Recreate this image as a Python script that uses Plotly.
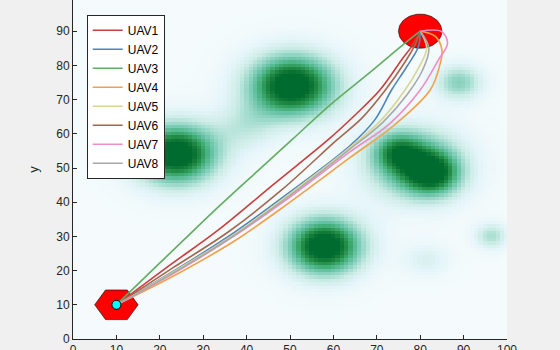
import numpy as np
import plotly.graph_objects as go

# ---------------- data ----------------
grid_x = np.arange(0, 101)
grid_y = np.arange(0, 101)

# threat sources
threat_x = [50.5, 23.8, 58.0, 79.0, 74.6, 83.2, 89.0, 96.5, 81.5, 40.0]
threat_y = [74.0, 54.0, 27.0, 51.0, 55.0, 48.0, 75.0, 30.0, 23.0, 62.0]
threat_sx = [7.5, 7.0, 6.5, 8.0, 4.0, 4.5, 4.0, 2.8, 4.0, 5.0]
threat_sy = [6.8, 6.5, 6.2, 7.5, 4.0, 4.5, 3.8, 2.8, 3.5, 5.0]
threat_peak = [1.15, 1.15, 1.15, 0.75, 0.45, 0.6, 0.5, 0.4, 0.22, 0.25]

start_xy = (10, 10)
goal_xy = (80, 90)
start_radius = 5
goal_radius = 5

uav_names = ["UAV1", "UAV2", "UAV3", "UAV4", "UAV5", "UAV6", "UAV7", "UAV8"]
uav_colors = ["#cc3d3d", "#4f86b8", "#62ad62", "#f2a04a", "#d9d595",
              "#a4674e", "#f08cc6", "#a8a8a8"]

uav1_x = [10, 22, 33.5, 46, 59, 65, 70.7, 75.7, 78, 80]
uav1_y = [10, 21.3, 31.9, 45, 58.5, 65.5, 72.8, 81.6, 85.5, 90]
uav2_x = [10, 24, 37, 50, 63.8, 69.5, 73.4, 76.9, 79.6, 80]
uav2_y = [10, 20.5, 31, 43, 56.5, 64, 72.8, 79.6, 85.5, 90]
uav3_x = [10, 19, 28, 34, 42, 50.4, 59.2, 68, 76.5, 80]
uav3_y = [10, 21, 32, 39.2, 48.5, 58.2, 68.4, 77.5, 86.5, 90]
uav4_x = [10, 24, 37, 50, 63.8, 74, 82.3, 84.5, 85, 83.5, 80]
uav4_y = [10, 19, 28.5, 40, 53, 62.5, 72.8, 80, 84.5, 88.5, 90]
uav5_x = [10, 24, 37, 50, 63.8, 71, 76.5, 79.5, 81.5, 80]
uav5_y = [10, 20.3, 30.5, 42.5, 56, 64, 72.8, 79, 85, 90]
uav6_x = [10, 23, 36, 48, 60.8, 66.5, 71.8, 76.5, 78.8, 80]
uav6_y = [10, 20.8, 31.5, 43.5, 58.2, 64.5, 72.5, 81, 86, 90]
uav7_x = [10, 24, 37, 50, 63.8, 73, 80, 84.2, 86.3, 84.9, 80]
uav7_y = [10, 19.8, 30, 41.5, 54.7, 63, 72.8, 81.6, 86.5, 89.9, 90]
uav8_x = [10, 24, 37, 50, 63.8, 71.5, 77, 80.5, 82, 80]
uav8_y = [10, 20, 30.2, 42, 55.5, 63.5, 71.5, 78.5, 85, 90]

uav_x = [uav1_x, uav2_x, uav3_x, uav4_x, uav5_x, uav6_x, uav7_x, uav8_x]
uav_y = [uav1_y, uav2_y, uav3_y, uav4_y, uav5_y, uav6_y, uav7_y, uav8_y]

x_ticks = list(range(0, 101, 10))
y_ticks = list(range(0, 91, 10))

# ---------------- build ----------------
GX, GY = np.meshgrid(grid_x, grid_y)
field = np.zeros_like(GX, dtype=float)
for cx, cy, sx, sy, pk in zip(threat_x, threat_y, threat_sx, threat_sy, threat_peak):
    field += pk * np.exp(-((GX - cx) ** 2 / (2 * sx ** 2) + (GY - cy) ** 2 / (2 * sy ** 2)))

colorscale = [[0.0, "#f5fbfc"], [0.15, "#e5f5f9"], [0.3, "#ccece6"], [0.45, "#99d8c9"],
              [0.6, "#66c2a4"], [0.72, "#41ae76"], [0.85, "#238b45"], [1.0, "#006b2e"]]

fig = go.Figure()
fig.add_trace(go.Heatmap(x=grid_x, y=grid_y, z=field, colorscale=colorscale,
                         zmin=0, zmax=1, showscale=False, hoverinfo="skip"))

# start hexagon
ang = np.deg2rad(np.arange(0, 361, 60))
fig.add_trace(go.Scatter(x=start_xy[0] + start_radius * np.cos(ang),
                         y=start_xy[1] + start_radius * np.sin(ang),
                         mode="lines", fill="toself", fillcolor="#ff0000",
                         line=dict(color="#000000", width=0.6),
                         showlegend=False, hoverinfo="skip"))
# goal circle
t = np.linspace(0, 2 * np.pi, 90)
fig.add_trace(go.Scatter(x=goal_xy[0] + goal_radius * np.cos(t),
                         y=goal_xy[1] + goal_radius * np.sin(t),
                         mode="lines", fill="toself", fillcolor="#ff0000",
                         line=dict(color="#000000", width=0.6),
                         showlegend=False, hoverinfo="skip"))

for name, col, xs, ys in zip(uav_names, uav_colors, uav_x, uav_y):
    fig.add_trace(go.Scatter(x=xs, y=ys, mode="lines", name=name,
                             line=dict(color=col, width=1.6, shape="spline", smoothing=1.0)))

fig.add_trace(go.Scatter(x=[start_xy[0]], y=[start_xy[1]], mode="markers",
                         marker=dict(color="#00ffff", size=9,
                                     line=dict(color="#000000", width=1)),
                         showlegend=False, hoverinfo="skip"))

axis_font = dict(family="Liberation Sans, Arial", size=12, color="#262626")
fig.update_layout(
    width=560, height=350,
    margin=dict(l=73, r=53, t=0, b=11),
    paper_bgcolor="#f0f0f0", plot_bgcolor="#ffffff",
    font=axis_font,
    xaxis=dict(range=[0, 100], tickvals=x_ticks, ticks="inside", ticklen=4,
               tickcolor="#262626", showline=True, linecolor="#262626", linewidth=1,
               showgrid=False, zeroline=False, tickfont=axis_font, automargin=False),
    yaxis=dict(range=[0, 99.12], tickvals=y_ticks, ticks="inside", ticklen=4,
               tickcolor="#262626", showline=True, linecolor="#262626", linewidth=1,
               showgrid=False, zeroline=False, tickfont=axis_font, automargin=False,
               title=dict(text="y", font=dict(size=13), standoff=14)),
    legend=dict(x=0.0316, y=0.9566, xanchor="left", yanchor="top",
                bgcolor="#ffffff", bordercolor="#262626", borderwidth=1,
                font=dict(family="Liberation Sans, Arial", size=12, color="#000000"),
                tracegroupgap=0),
    annotations=[dict(text="100", xref="paper", x=0, yref="y", y=100,
                      xanchor="right", yanchor="middle", xshift=-4,
                      showarrow=False, font=axis_font)],
)

fig.write_html("out.html")
